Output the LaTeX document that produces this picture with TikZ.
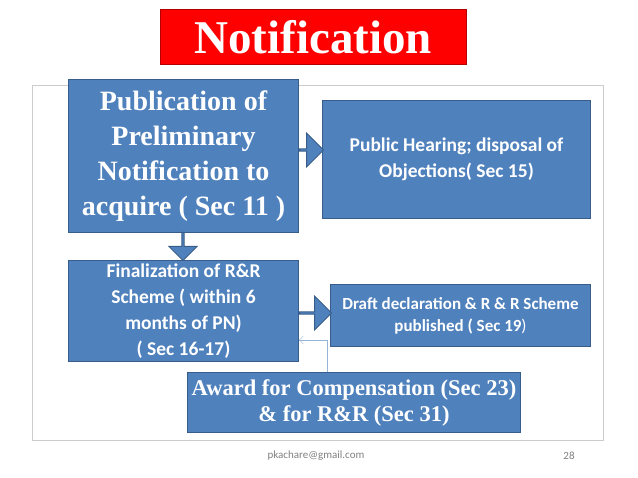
\documentclass[tikz,border=0pt]{standalone}
\usepackage{fontspec}
\setmainfont{Liberation Serif}
\newfontfamily\calibri{Carlito}
\usetikzlibrary{shapes.arrows,arrows.meta}
\definecolor{boxblue}{HTML}{4F81BD}
\definecolor{boxline}{HTML}{385D8A}
\tikzset{
  blubox/.style={draw=boxline,line width=1pt,fill=boxblue,text=white,align=center,anchor=north west,inner sep=2pt},
  blockarrow/.style={single arrow,draw=boxline,line width=1pt,fill=boxblue,single arrow head extend=7pt,minimum height=#1,minimum width=34pt,inner sep=0pt}
}
\begin{document}
\begin{tikzpicture}[x=1pt,y=-1pt]
        \useasboundingbox (0,0) rectangle (638,478);
        \draw[gray!40] (32,85) rectangle (603,440);
        % title
        \node[draw=red!70!black,fill=red,text=white,font=\bfseries\fontsize{47}{50}\selectfont,minimum width=306pt,minimum height=55pt,anchor=north west] (title) at (160,9) {Notification};
        % boxes
        \node[blubox,minimum width=230pt,minimum height=153pt,font=\bfseries\fontsize{28}{35}\selectfont] (pre) at (68,79) {Publication of\\Preliminary\\Notification to\\acquire ( Sec 11 )};
        \node[blubox,minimum width=268pt,minimum height=118pt,font=\calibri\bfseries\fontsize{19.5}{26}\selectfont] (hear) at (322,100) {Public Hearing; disposal of\\Objections( Sec 15)};
        \node[blubox,minimum width=230pt,minimum height=101pt,font=\calibri\bfseries\fontsize{19.5}{26}\selectfont] (rr) at (68,260) {Finalization of R\&R\\Scheme ( within 6\\months of PN)\\( Sec 16-17)};
        \node[blubox,minimum width=260pt,minimum height=62pt,font=\calibri\bfseries\fontsize{17}{22}\selectfont] (draft) at (330,284) {Draft declaration \& R \& R Scheme\\published ( Sec 19{\mdseries)}};
        \node[blubox,minimum width=333pt,minimum height=60pt,font=\bfseries\fontsize{22.5}{26}\selectfont] (award) at (187,372) {Award for Compensation (Sec 23)\\\& for R\&R (Sec 31)};
        % block arrows
        \node[blockarrow=24pt,anchor=tail] (a1) at (pre.east |- 0,150) {};
        \node[blockarrow=28pt,minimum width=28pt,single arrow head extend=6pt,anchor=tail,shape border rotate=270] (a2) at (183,232) {};
        \node[blockarrow=32pt,anchor=tail] (a3) at (rr.east |- 0,313) {};
        % thin connector
        \coordinate (bend) at (327,340);
        \draw[boxblue!60,-{Straight Barb[length=4pt]}] (award.north -| bend) -- (bend) -- (rr.east |- bend);
        % footer
        \node[gray,font=\calibri\fontsize{11}{13}\selectfont] (mail) at (316,456) {pkachare@gmail.com};
        \node[gray,font=\calibri\fontsize{11}{13}\selectfont] (page) at (569,456) {28};
\end{tikzpicture}
\end{document}
